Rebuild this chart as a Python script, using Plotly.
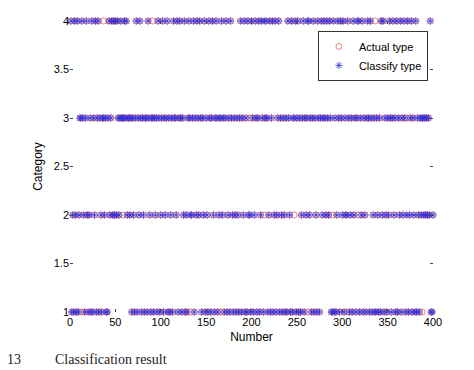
import plotly.graph_objects as go

# Actual category of each of the 400 samples (10 per block)
actual_blocks = [
    "4121421412", "3143213421", "2314132413", "4132134231", "1342342424",
    "2432343234", "3423323132", "1341324313", "2133143213", "4132314312",
    "3413234131", "2314332413", "4313241213", "4312341324", "3243132413",
    "2143134213", "4312314231", "3412314321", "3213213413", "2413142314",
    "3124313412", "4312343124", "1341241234", "1321321314", "3214132413",
    "4131234132", "3142313413", "2143134234", "3243243124", "1312431432",
    "4132143123", "1423134213", "2413213431", "4312341321", "3142413213",
    "2431342314", "1324132431", "3412341321", "4132132132", "3232324112",
]
actual_type = [int(c) for c in "".join(actual_blocks)]
numbers = list(range(1, len(actual_type) + 1))

# Samples where the classifier output differs from the actual type
error_numbers = [12, 37, 58, 91, 104, 133, 166, 198, 214, 247, 262, 289, 305, 318, 336, 352, 371, 388]
error_values = [3, 3, 3, 3, 3, 2, 3, 2, 4, 3, 4, 1, 2, 4, 1, 4, 2, 3]

classify_type = list(actual_type)
for n, v in zip(error_numbers, error_values):
    classify_type[n - 1] = v

x_ticks = [0, 50, 100, 150, 200, 250, 300, 350, 400]
y_ticks = [1, 1.5, 2, 2.5, 3, 3.5, 4]
y_tick_text = ["1", "1.5", "2", "2.5", "3", "3.5", "4"]

fig = go.Figure()
fig.add_trace(go.Scatter(
    x=numbers, y=actual_type, mode="markers", name="Actual type",
    marker=dict(symbol="circle-open", size=6, color="#d85050", line=dict(width=0.7)),
    cliponaxis=False,
))
fig.add_trace(go.Scatter(
    x=numbers, y=classify_type, mode="markers", name="Classify type",
    marker=dict(symbol="asterisk-open", size=6, color="#3030e0", line=dict(width=0.8, color="#3030e0")),
    cliponaxis=False,
))

font = dict(family="Liberation Sans, Arial, sans-serif", size=11, color="black")
fig.update_layout(
    width=474, height=370,
    margin=dict(l=70, r=41, t=21, b=58, autoexpand=False),
    paper_bgcolor="white", plot_bgcolor="white",
    font=font,
    showlegend=True,
    legend=dict(x=0.683, y=0.966, xanchor="left", yanchor="top",
                bgcolor="white", bordercolor="#333333", borderwidth=1,
                font=dict(family="Liberation Sans, Arial, sans-serif", size=11),
                tracegroupgap=0),
    xaxis=dict(range=[0, 400], tickvals=x_ticks, ticks="inside", ticklen=3,
               showgrid=False, zeroline=False, showline=False, mirror="ticks",
               automargin=False, ticklabelstandoff=2,
               title=dict(text="Number", standoff=5, font=dict(size=12))),
    yaxis=dict(range=[1, 4], tickvals=y_ticks, ticktext=y_tick_text,
               ticks="inside", ticklen=3, showgrid=False, zeroline=False, showline=False,
               mirror="ticks", automargin=False,
               title=dict(text="Category", standoff=8, font=dict(size=12))),
)
cap_font = dict(family="Liberation Serif, Times New Roman, serif", size=14, color="#222")
fig.add_annotation(text="13", xref="paper", yref="paper", x=-65/363, y=-57/291,
                   xanchor="left", yanchor="bottom", showarrow=False, font=cap_font)
fig.add_annotation(text="Classification result", xref="paper", yref="paper", x=-17/363, y=-57/291,
                   xanchor="left", yanchor="bottom", showarrow=False, font=cap_font)

fig.write_html("out.html", config={"displayModeBar": False},
               post_script="document.body.style.margin='0';")
